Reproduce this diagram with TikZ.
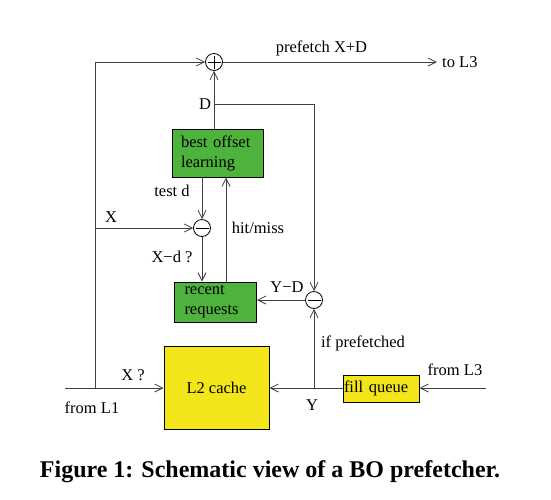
\documentclass[tikz,border=0pt]{standalone}
\usepackage{fontspec}
\setmainfont{Liberation Serif}
\usetikzlibrary{arrows.meta,positioning}

\definecolor{learngreen}{RGB}{77,179,61}
\definecolor{cacheyellow}{RGB}{242,229,26}

\begin{document}
\begin{tikzpicture}[
  x=1pt, y=-1pt,
  font=\fontsize{16.5}{20}\selectfont,
  greenbox/.style={draw, line width=1pt, fill=learngreen, align=left},
  yellowbox/.style={draw, line width=1pt, fill=cacheyellow},
  op/.style={draw, circle, line width=0.8pt, minimum size=17pt, inner sep=0pt},
  plusop/.style={op, path picture={
      \draw[line width=0.8pt] ([yshift=-2pt]path picture bounding box.north) -- ([yshift=2pt]path picture bounding box.south)
        ([xshift=2pt]path picture bounding box.west) -- ([xshift=-2pt]path picture bounding box.east);}},
  minusop/.style={op, path picture={
      \draw[line width=0.8pt] ([xshift=2pt]path picture bounding box.west) -- ([xshift=-2pt]path picture bounding box.east);}},
  flow/.style={->, >={Straight Barb[length=8pt,width=8pt,line width=0.8pt]}, line width=1pt, draw=black!75},
  line/.style={-, line width=1pt, draw=black!75},
  every node/.style={inner sep=1pt}]

  \useasboundingbox (0,0) rectangle (551,499);

  % Position the nodes at coordinates
  \node[plusop] (plus) at (214,62) {};
  \node[minusop] (minus-test) at (202,228) {};
  \node[minusop] (minus-fill) at (314,300) {};
  \node[greenbox, minimum width=91pt, minimum height=48pt, text width=73pt, inner xsep=9pt] (learning) at (217.5,153) {best offset\\learning};
  \node[greenbox, minimum width=81pt, minimum height=40pt, text width=62pt, inner xsep=10pt, inner ysep=0pt] (recent) at (215.5,302) {recent\\requests};
  \node[yellowbox, minimum width=105pt, minimum height=83pt] (cache) at (216.5,387.5) {L2 cache};
  \node[yellowbox, minimum width=76pt, minimum height=27pt, text width=74pt, inner xsep=1pt, align=left] (fill) at (381,388.5) {fill queue};

  \coordinate (from-l1) at (65,388);
  \coordinate (l1-split) at (95,388);
  \coordinate (x-split) at (95,228);
  \coordinate (top-left) at (95,62);
  \coordinate (to-l3) at (437,62);
  \coordinate (d-split) at (214,104);
  \coordinate (d-corner) at (314,104);
  \coordinate (y-split) at (314,388);
  \coordinate (from-l3) at (486,388);
  \coordinate (hit-x) at (226,0);

  % Connections
  \draw[flow] (l1-split) -- (top-left) -- (plus);
  \draw[flow] (x-split) -- (minus-test);
  \draw[flow] (from-l1) -- (from-l1 -| cache.west);
  \draw[flow] (plus) -- (to-l3);
  \draw[flow] (plus |- learning.north) -- (plus);
  \draw[flow] (d-split) -- (d-corner) -- (minus-fill);
  \draw[flow] (learning.south -| minus-test) -- (minus-test);
  \draw[flow] (minus-test) -- (recent.north -| minus-test);
  \draw[flow] (recent.north -| hit-x) -- (learning.south -| hit-x);
  \draw[flow] (minus-fill) -- (recent.east |- minus-fill);
  \draw[flow] (y-split) -- (minus-fill);
  \draw[flow] (fill.west |- y-split) -- (cache.east |- y-split);
  \draw[flow] (from-l3) -- (fill.east |- from-l3);

  % Labels
  \node (lbl-prefetch) at (321.5,48) {prefetch X+D};
  \node[anchor=west] (lbl-to-l3) at (441,62) {to L3};
  \node (lbl-d) at (205,104) {D};
  \node (lbl-test) at (172,191) {test d};
  \node (lbl-x) at (111,217) {X};
  \node (lbl-hit) at (258,228) {hit/miss};
  \node (lbl-xd) at (172,257) {X−d ?};
  \node (lbl-yd) at (287,287) {Y−D};
  \node (lbl-prefetched) at (363,343) {if prefetched};
  \node (lbl-xq) at (133,375) {X ?};
  \node (lbl-from-l1) at (92,408) {from L1};
  \node (lbl-y) at (312,405) {Y};
  \node (lbl-from-l3) at (455,370) {from L3};

  \node[font=\fontsize{24}{28}\selectfont\bfseries] (caption) at (270,472) {Figure 1: Schematic view of a BO prefetcher.};

\end{tikzpicture}
\end{document}
